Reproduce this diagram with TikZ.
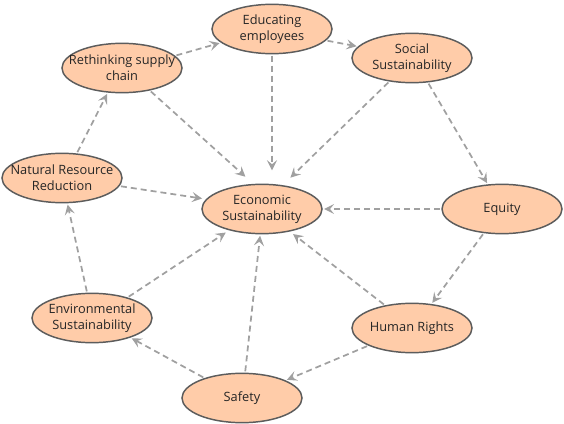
\documentclass[tikz,border=0pt]{standalone}
\usepackage{fontspec}
\setmainfont{Open Sans}
\usetikzlibrary{arrows.meta,shapes.geometric}
\definecolor{peach}{RGB}{255,204,169}
\definecolor{rim}{RGB}{92,92,92}
\definecolor{flowgray}{RGB}{160,160,160}

\begin{document}
\begin{tikzpicture}[x=0.75pt,y=-0.75pt]
        \tikzstyle{every node}=[font=\fontsize{9.6}{12}\selectfont,text=black!85]
        \tikzstyle{topic}=[ellipse,draw=rim,line width=1.1pt,fill=peach,minimum width=90pt,minimum height=37pt,inner xsep=-12pt,inner ysep=0pt,align=center]
        \tikzstyle{flow}=[-{Stealth[length=7.5pt,width=7.5pt,inset=3pt]},draw=flowgray,line width=1.3pt,dash pattern=on 4.5pt off 3pt,shorten >=1pt,shorten <=1pt]
        \useasboundingbox (0,0) rectangle (564,424);

        %%% Topics
        \node[topic] (edu) at (272,29) {Educating\\employees};
        \node[topic] (rsc) at (122,68) {Rethinking supply\\chain};
        \node[topic] (soc) at (412,58) {Social\\Sustainability};
        \node[topic] (nat) at (62,178) {Natural Resource\\Reduction};
        \node[topic] (eco) at (262,209) {Economic\\Sustainability};
        \node[topic] (equ) at (502,209) {Equity};
        \node[topic] (env) at (92,318) {Environmental\\Sustainability};
        \node[topic] (hum) at (412,328) {Human Rights};
        \node[topic] (saf) at (242,398) {Safety};

        %%% Links
        \draw[flow] (rsc.13) -- (edu.195);
        \draw[flow] (edu.-12) -- (soc.168);
        \draw[flow,shorten >=10pt] (edu.south) -- (edu.south |- eco.north);
        \draw[flow,shorten >=8pt] (rsc.-39) -- (eco.109);
        \draw[flow,shorten >=8pt] (soc.-134) -- (eco.49);
        \draw[flow] (soc.-57) -- (equ.120);
        \draw[flow] (nat.59) -- (rsc.-120);
        \draw[flow,shorten >=3pt] (nat.-8) -- (eco.170);
        \draw[flow] (equ.west) -- (eco.east);
        \draw[flow] (equ.-127) -- (hum.51);
        \draw[flow] (env.101) -- (nat.-78);
        \draw[flow,shorten >=3pt] (env.30) -- (eco.-147);
        \draw[flow,shorten >=3pt] (hum.140) -- (eco.-39);
        \draw[flow] (hum.-158) -- (saf.22);
        \draw[flow] (saf.83) -- (eco.-94);
        \draw[flow] (saf.152) -- (env.-27);
\end{tikzpicture}
\end{document}
